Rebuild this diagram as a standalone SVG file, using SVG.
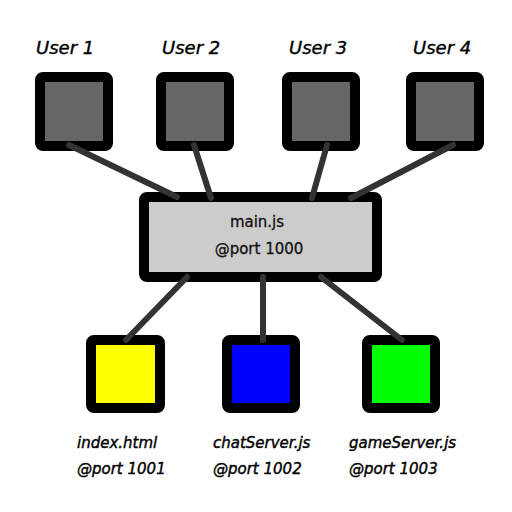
<svg xmlns="http://www.w3.org/2000/svg" width="512" height="512" viewBox="0 0 512 512">
<style>
.box{stroke:#000;stroke-width:10;stroke-linejoin:round}
.user{fill:#666}
.lbl{font-family:"DejaVu Sans",sans-serif;font-style:italic;fill:#000;stroke:#000;stroke-width:0.4}
.main{font-family:"DejaVu Sans",sans-serif;font-size:15px;fill:#111;stroke:#111;stroke-width:0.3;text-anchor:middle}
.conn line{stroke:#333;stroke-width:6;stroke-linecap:round}
</style>
<rect width="512" height="512" fill="#fff"/>
<g id="user1"><rect class="box user" x="40" y="77" width="68" height="69" rx="3"/><text class="lbl" x="36" y="54" font-size="18">User 1</text></g>
<g id="user2"><rect class="box user" x="161" y="77" width="68" height="69" rx="3"/><text class="lbl" x="162" y="54" font-size="18">User 2</text></g>
<g id="user3"><rect class="box user" x="287" y="77" width="68" height="69" rx="3"/><text class="lbl" x="289" y="54" font-size="18">User 3</text></g>
<g id="user4"><rect class="box user" x="411" y="77" width="68" height="69" rx="3"/><text class="lbl" x="413" y="54" font-size="18">User 4</text></g>
<g id="main"><rect class="box" fill="#ccc" x="144" y="197" width="233" height="80" rx="3"/><text class="main" x="257" y="227">main.js</text><text class="main" x="259" y="254">@port 1000</text></g>
<g id="index"><rect class="box" fill="#ff0" x="91" y="340" width="69" height="68" rx="3"/><text class="lbl" x="77" y="448" font-size="15">index.html</text><text class="lbl" x="77" y="474" font-size="15">@port 1001</text></g>
<g id="chat"><rect class="box" fill="#00f" x="227" y="340" width="68" height="68" rx="3"/><text class="lbl" x="213" y="448" font-size="15">chatServer.js</text><text class="lbl" x="213" y="474" font-size="15">@port 1002</text></g>
<g id="game"><rect class="box" fill="#0f0" x="367" y="340" width="68" height="68" rx="3"/><text class="lbl" x="349" y="448" font-size="15">gameServer.js</text><text class="lbl" x="349" y="474" font-size="15">@port 1003</text></g>
<g class="conn">
<line x1="69" y1="145" x2="177" y2="197"/>
<line x1="194" y1="145" x2="211" y2="198"/>
<line x1="327" y1="145" x2="312" y2="198"/>
<line x1="453" y1="145" x2="351" y2="198"/>
<line x1="187" y1="277" x2="126" y2="340"/>
<line x1="263" y1="277" x2="263" y2="340"/>
<line x1="321" y1="277" x2="402" y2="340"/>
</g>
</svg>
